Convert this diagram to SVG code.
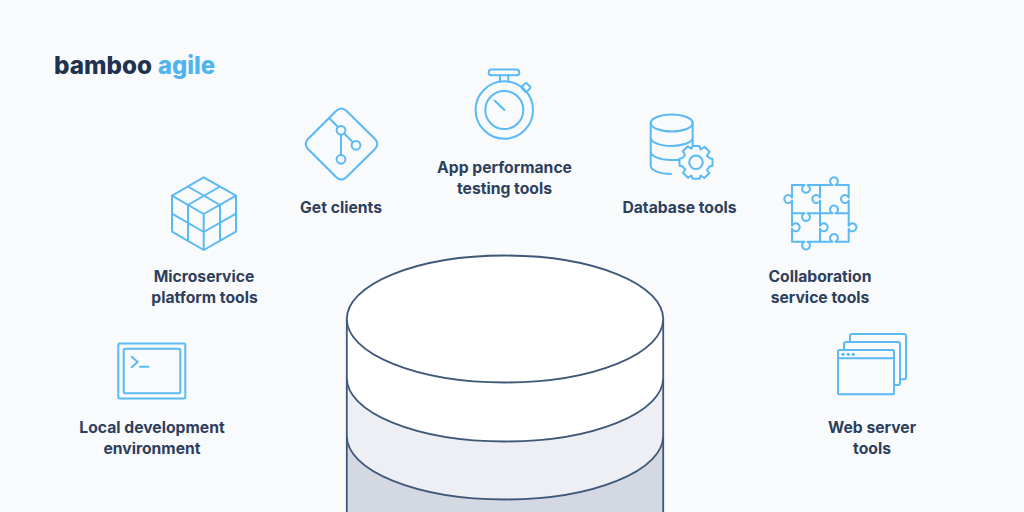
<svg xmlns="http://www.w3.org/2000/svg" width="1024" height="512" viewBox="0 0 1024 512">
<style>
.i{fill:none;stroke:#5bbaf3;stroke-width:2;stroke-linecap:round;stroke-linejoin:round}
.t{font-family:"Inter","Liberation Sans",sans-serif;font-weight:700;font-size:15.700px;fill:#2e3f5c;text-anchor:middle}
.c{stroke:#3f5878;stroke-width:1.800}
.logo{font-family:"Inter","Liberation Sans",sans-serif;font-weight:800;font-size:24.500px}
</style>
<rect width="1024" height="512" fill="#f8fafc"/>
<g id="logo"><text class="logo" x="54" y="73.500" fill="#1f3350" textLength="98" lengthAdjust="spacingAndGlyphs">bamboo</text><text class="logo" x="158" y="73.500" fill="#4fb3ef" textLength="57" lengthAdjust="spacingAndGlyphs">agile</text></g>
<g id="cylinder">
<path class="c" fill="#d3d8e3" d="M346.800 436V513H663.200V436Z"/>
<path class="c" fill="#edeff4" d="M346.800 378V436A158.200 63.500 0 0 0 663.200 436V378Z"/>
<path class="c" fill="#fff" d="M346.800 319V378A158.200 63.500 0 0 0 663.200 378V319Z"/>
<ellipse class="c" fill="#fff" cx="505" cy="319" rx="158.200" ry="63.500"/>
</g>
<g id="local-dev">
<rect class="i" x="118.300" y="343.500" width="67" height="55" rx="1.500"/>
<rect class="i" x="123.700" y="348.800" width="56.600" height="44.500" rx="1.500"/>
<path class="i" d="M131.700 356.700L137.700 362L131.700 367.300M140 366.700H148.500"/>
<text class="t" x="152" y="432.500">Local development</text><text class="t" x="152" y="453.500">environment</text>
</g>
<g id="microservice">
<path class="i" d="M203.700 177.300L236 195.700V231.700L203.700 250L172 231.700V195.700ZM172 195.700L203.700 214L236 195.700M203.700 214V250M188 186.500L220 205M220 186.500L188 205M172 213.700L203.700 232L236 213.700M188 205V241M220 205V241"/>
<text class="t" x="204" y="281.500">Microservice</text><text class="t" x="204.500" y="302.500">platform tools</text>
</g>
<g id="git-clients">
<path class="i" d="M336.300 110.700Q341.300 106.200 346.300 110.700L375 139Q379.500 144 375 149L346.300 177.300Q341.300 181.800 336.300 177.300L308 149Q303.500 144 308 139Z"/>
<circle class="i" cx="341" cy="130.300" r="4.400"/><circle class="i" cx="356" cy="145.300" r="4.400"/><circle class="i" cx="341" cy="159.300" r="4.400"/>
<path class="i" d="M329.300 118.300L338 127M341 134.700V155M344.200 133.500L352.800 142.100"/>
<text class="t" x="341" y="212.500">Get clients</text>
</g>
<g id="app-performance">
<circle class="i" cx="504.300" cy="110" r="28.700"/><circle class="i" cx="504.300" cy="110" r="19"/>
<rect class="i" x="488.700" y="69.500" width="30.600" height="5.800" rx="2.900"/>
<path class="i" d="M500 75.300V81.500M508.300 75.300V81.500"/>
<rect class="i" x="522.500" y="84" width="7" height="7" rx="1.500" transform="rotate(45 526 87.500)"/>
<path class="i" d="M494.700 100.700L504.500 110"/>
<text class="t" x="504.500" y="172.500">App performance</text><text class="t" x="504.500" y="193.500">testing tools</text>
</g>
<g id="database">
<ellipse class="i" cx="671.700" cy="123" rx="21" ry="8.500"/>
<path class="i" d="M650.700 123V165.500C650.700 170.500 660 174 671 174M650.700 137.500C650.700 142.500 660 146 671.700 146C681 146 692.700 143 692.700 137.500M692.700 123V145M650.700 151.500C650.700 156.500 660 160 671 160H679"/>
<path class="i" d="M692.500 146L699.500 146L700.500 149.500L704.500 146.800L709.500 151.800L706.900 155.700L710.700 158.800L712.500 158.800V165.800L709.500 166.500L707 170L709.300 173L704.300 178L700.600 175.600L699.500 178.800H692.500L691.500 175.500L688 177.800L683 172.800L685.300 169.300L681.500 165.800H679.500V158.800L682.500 158L685 154.800L682.800 151.300L687.800 146.300L691.500 148.800Z"/>
<circle class="i" cx="696" cy="162.300" r="6.800"/>
<text class="t" x="679.500" y="212.500">Database tools</text>
</g>
<g id="collaboration">
<path class="i" d="M792 185H804.500A4 4 0 1 0 807.500 185H832.500A4 4 0 1 1 835.500 185H848.700V197.500A4 4 0 1 0 848.700 200.500V225.800A4 4 0 1 1 848.700 228.800V241.700H835.500A4 4 0 1 0 832.500 241.700H807.500A4 4 0 1 1 804.500 241.700H792V228.800A4 4 0 1 0 792 225.800V200.500A4 4 0 1 1 792 197.500Z"/>
<path class="i" d="M820 185V197.500A4 4 0 1 0 820 200.500V225.800A4 4 0 1 1 820 228.800V241.700M792 213.300H804.500A4 4 0 1 0 807.500 213.300H832.500A4 4 0 1 1 835.500 213.300H848.700"/>
<text class="t" x="820" y="281.500">Collaboration</text><text class="t" x="820" y="302.500">service tools</text>
</g>
<g id="web-server">
<path class="i" d="M850 342V336Q850 334 852 334H904Q906 334 906 336V377.300Q906 379.300 904 379.300H900"/>
<path class="i" d="M844 350V344Q844 342 846 342H898Q900 342 900 344V383Q900 385 898 385H894"/>
<rect class="i" x="838" y="350" width="56" height="44.300" rx="1.500"/>
<path class="i" d="M838 358.300H894"/>
<g fill="#5bbaf3"><circle cx="843" cy="354.300" r="1.600"/><circle cx="848.300" cy="354.300" r="1.600"/><circle cx="853.300" cy="354.300" r="1.600"/></g>
<text class="t" x="872" y="432.500">Web server</text><text class="t" x="872" y="453.500">tools</text>
</g>
</svg>
